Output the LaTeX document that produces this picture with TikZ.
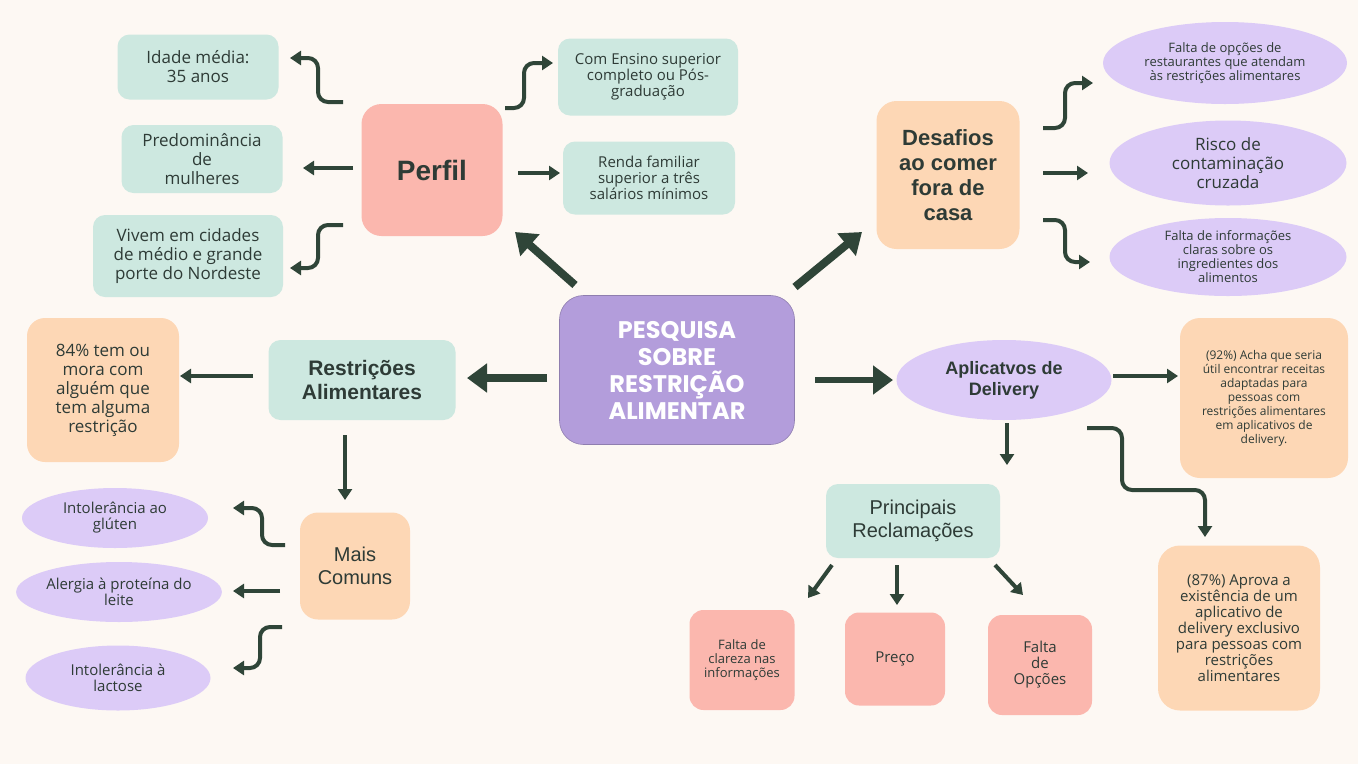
\documentclass[tikz,border=0pt]{standalone}
\usepackage{fontspec}
\setmainfont{Open Sans}
\newfontfamily\hd{Liberation Sans}
\newfontfamily\ctr{Poppins}
\usetikzlibrary{shapes.geometric,arrows.meta}
\definecolor{bg}{HTML}{FDF8F3}
\definecolor{teal}{HTML}{CDE8E0}
\definecolor{pink}{HTML}{FBB7AE}
\definecolor{purp}{HTML}{B39DDB}
\definecolor{lav}{HTML}{DCCBF7}
\definecolor{peach}{HTML}{FDD7B5}
\definecolor{dk}{HTML}{2F4538}
\definecolor{tx}{HTML}{2E3B36}
\begin{document}
\begin{tikzpicture}[x=1pt,y=-1pt,
 box/.style={rounded corners=12pt,align=center,text=tx,inner sep=2pt},
 el/.style={ellipse,align=center,text=tx,fill=lav,inner sep=0pt},
 sm/.style={line width=4pt,dk,-{Triangle[length=11pt,width=14pt]},rounded corners=10pt},
 big/.style={line width=8pt,dk,-{Triangle[length=20pt,width=28pt]}},
 t/.style={font=\fontsize{17}{19}\selectfont},
 s/.style={font=\fontsize{15}{16}\selectfont},
 xs/.style={font=\fontsize{13}{14}\selectfont}]
\fill[bg] (0,0) rectangle (1358,764);
\useasboundingbox (0,0) rectangle (1358,764);
% nodes
\node[box,fill=teal,minimum width=161,minimum height=65,t] (idade) at (198,67) {Idade média:\\35 anos};
\node[box,fill=teal,minimum width=161,minimum height=68,t] (pred) at (202,159) {Predominância\\de\\mulheres};
\node[box,fill=teal,minimum width=190,minimum height=82,t] (viv) at (188,256) {Vivem em cidades\\de médio e grande\\porte do Nordeste};
\node[box,fill=pink,minimum width=141,minimum height=132,rounded corners=20pt,font=\hd\bfseries\fontsize{28}{30}\selectfont] (perfil) at (432,170) {Perfil};
\node[box,fill=teal,minimum width=180,minimum height=77,s] (ens) at (648,77) {Com Ensino superior\\completo ou Pós-\\graduação};
\node[box,fill=teal,minimum width=172,minimum height=73,s] (renda) at (649,178) {Renda familiar\\superior a três\\salários mínimos};
\node[box,fill=peach,minimum width=143,minimum height=148,rounded corners=20pt,font=\hd\bfseries\fontsize{22}{25}\selectfont] (des) at (948,175) {Desafios\\ao comer\\fora de\\casa};
\node[el,minimum width=244,minimum height=82,xs] (fo) at (1225,63) {Falta de opções de\\restaurantes que atendam\\às restrições alimentares};
\node[el,minimum width=237,minimum height=85,t] (risco) at (1228,163) {Risco de\\contaminação\\cruzada};
\node[el,minimum width=237,minimum height=78,xs] (fi) at (1228,257) {Falta de informações\\claras sobre os\\ingredientes dos\\alimentos};
\node[box,fill=purp,draw=purp!80!black,line width=0.6pt,minimum width=235,minimum height=149,rounded corners=24pt,text=white,font=\ctr\bfseries\fontsize{24}{27}\selectfont] (c) at (677,370) {PESQUISA\\SOBRE\\RESTRIÇÃO\\ALIMENTAR};
\node[box,fill=teal,minimum width=187,minimum height=80,font=\hd\bfseries\fontsize{21}{24}\selectfont] (rest) at (362,380) {Restrições\\Alimentares};
\node[box,fill=peach,minimum width=152,minimum height=144,rounded corners=18pt,t] (p84) at (103,390) {84\% tem ou\\mora com\\alguém que\\tem alguma\\restrição};
\node[box,fill=peach,minimum width=110,minimum height=107,rounded corners=18pt,font=\hd\fontsize{20}{23}\selectfont] (mais) at (355,566) {Mais\\Comuns};
\node[el,minimum width=186,minimum height=60,s] (glu) at (115,518) {Intolerância ao\\glúten};
\node[el,minimum width=178,minimum height=60,s] (ale) at (119,592) {Alergia à proteína do\\leite};
\node[el,minimum width=185,minimum height=65,s] (lac) at (118,678) {Intolerância à\\lactose};
\node[el,minimum width=215,minimum height=80,font=\hd\bfseries\fontsize{18}{21}\selectfont] (app) at (1004,380) {Aplicatvos de\\Delivery};
\node[box,fill=peach,minimum width=168,minimum height=160,rounded corners=20pt,font=\fontsize{12}{14}\selectfont] (p92) at (1264,398) {(92\%) Acha que seria\\útil encontrar receitas\\adaptadas para\\pessoas com\\restrições alimentares\\em aplicativos de\\delivery.};
\node[box,fill=teal,minimum width=174,minimum height=74,font=\hd\fontsize{20}{23}\selectfont] (rec) at (913,521) {Principais\\Reclamações};
\node[box,fill=pink,minimum width=105,minimum height=100,rounded corners=14pt,xs] (fc) at (742,660) {Falta de\\clareza nas\\informações};
\node[box,fill=pink,minimum width=100,minimum height=93,rounded corners=14pt,s] (preco) at (895,659) {Preço};
\node[box,fill=pink,minimum width=104,minimum height=100,rounded corners=14pt,s] (fop) at (1040,665) {Falta\\de\\Opções};
\node[box,fill=peach,minimum width=162,minimum height=165,rounded corners=22pt,s] (p87) at (1239,628) {(87\%) Aprova a\\existência de um\\aplicativo de\\delivery exclusivo\\para pessoas com\\restrições\\alimentares};
% connectors
\draw[sm] (343,102) -| (318,58) -- (290,58);
\draw[sm] (353,168) -- (303,168);
\draw[sm] (343,225) -| (318,268) -- (290,268);
\draw[sm] (505,108) -| (524,63) -- (553,63);
\draw[sm] (518,173) -- (560,173);
\draw[big] (575,285) -- (515,232);
\draw[big] (795,287) -- (862,232);
\draw[sm] (1043,128) -| (1065,83) -- (1093,83);
\draw[sm] (1043,173) -- (1088,173);
\draw[sm] (1043,220) -| (1065,262) -- (1090,262);
\draw[big] (547,378) -- (467,378);
\draw[sm] (253,376) -- (180,376);
\draw[sm] (345,435) -- (345,500);
\draw[sm] (285,545) -| (262,508) -- (233,508);
\draw[sm] (280,591) -- (233,591);
\draw[sm] (282,627) -| (260,668) -- (233,668);
\draw[big,line width=6pt] (815,380) -- (893,380);
\draw[sm] (1113,376) -- (1178,376);
\draw[sm] (1007,423) -- (1007,465);
\draw[sm] (1087,428) -| (1122,490) -| (1205,537);
\draw[sm] (832,565) -- (808,598);
\draw[sm] (897,565) -- (897,605);
\draw[sm] (995,565) -- (1023,595);
\end{tikzpicture}
\end{document}
